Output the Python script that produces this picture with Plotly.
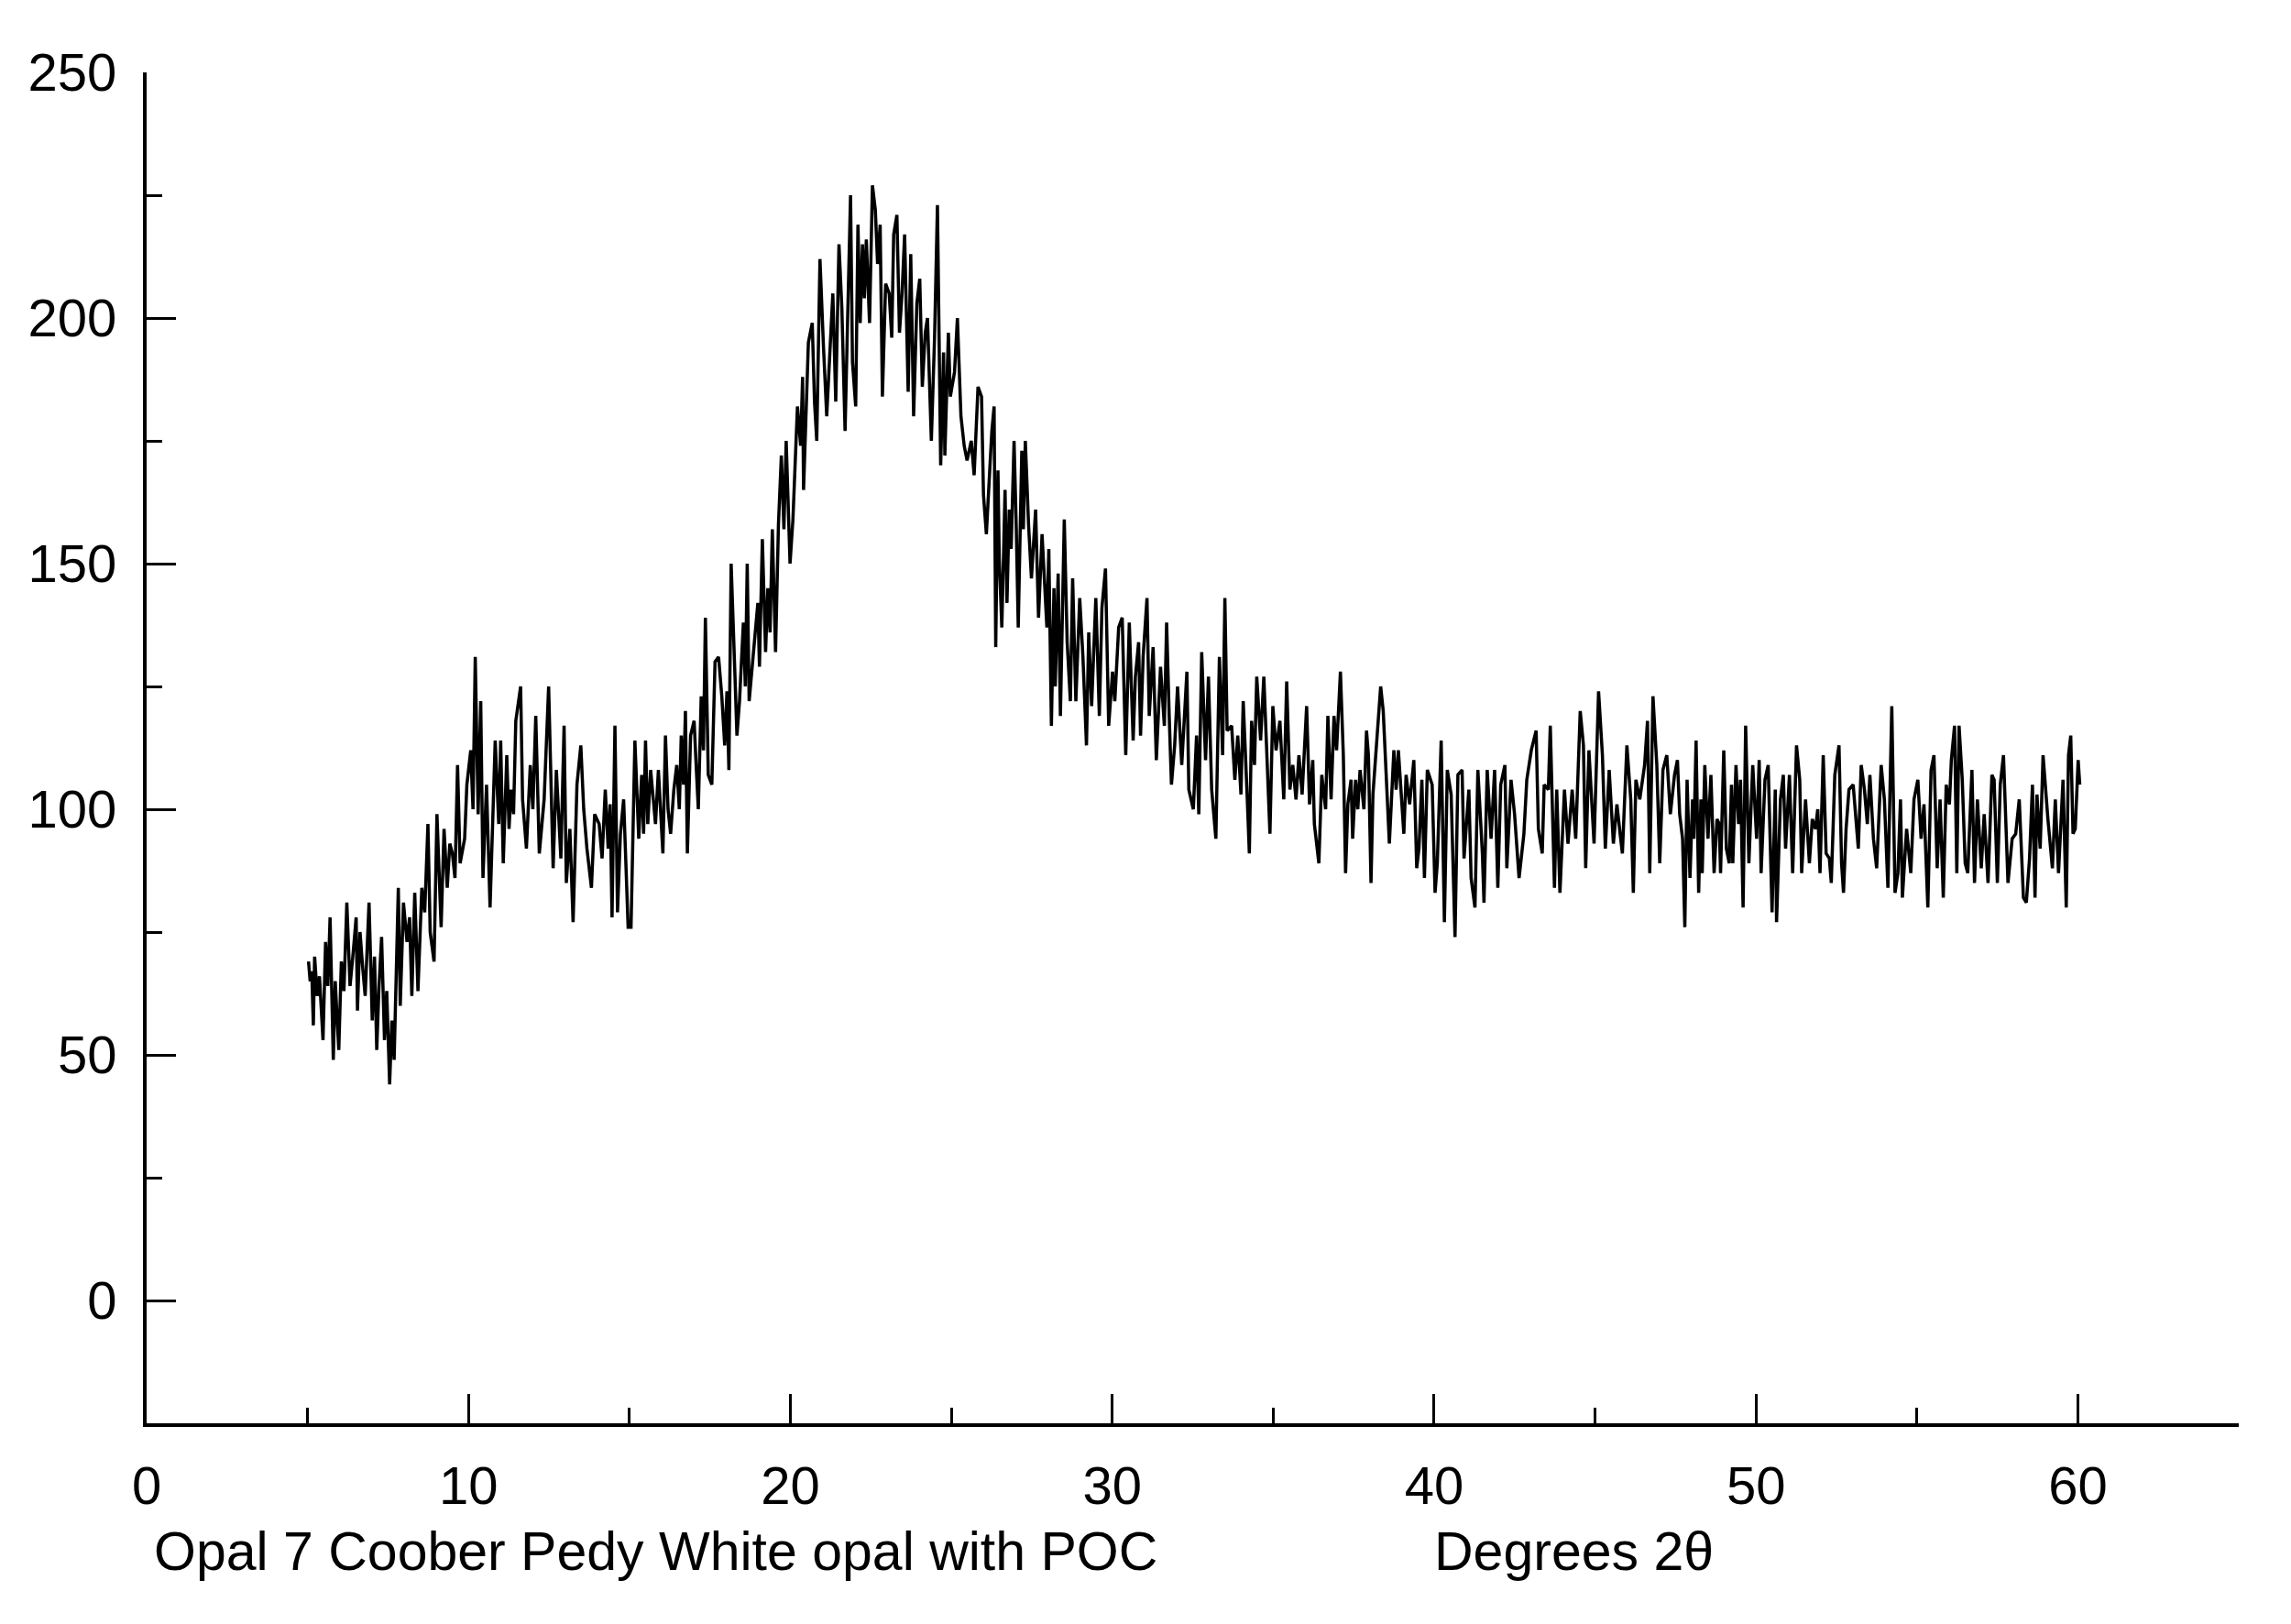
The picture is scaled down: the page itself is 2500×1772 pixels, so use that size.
import plotly.graph_objects as go

# Degrees 2-theta
two_theta = [
5.03,5.08,5.13,5.18,5.22,5.30,5.37,5.43,5.48,5.56,5.63,5.70,5.80,5.86,5.97,
6.05,6.13,6.22,6.32,6.42,6.51,6.55,6.63,6.71,6.79,6.91,
7.01,7.08,7.15,7.22,7.30,7.39,7.46,7.55,7.62,7.69,7.76,7.82,7.88,7.98,
8.09,8.17,8.24,8.33,8.43,8.55,8.64,8.74,8.81,8.93,
9.02,9.15,9.24,9.34,9.42,9.50,9.58,9.66,9.74,9.88,9.95,
10.07,10.14,10.21,10.30,10.38,10.45,10.56,10.67,10.76,10.83,10.94,
11.00,11.08,11.19,11.26,11.32,11.40,11.47,11.62,11.68,11.80,11.92,
12.00,12.09,12.20,12.28,12.35,12.49,12.63,12.73,12.87,12.97,
13.04,13.15,13.25,13.37,13.49,13.58,13.68,13.82,13.92,
14.06,14.15,14.25,14.34,14.40,14.46,14.55,14.63,14.72,14.82,14.96,
15.05,15.17,15.29,15.38,15.44,15.50,15.57,15.66,15.81,15.90,
16.04,16.12,16.20,16.28,16.38,16.47,16.55,16.61,16.68,16.74,16.80,16.90,
17.01,17.08,17.14,17.23,17.30,17.36,17.45,17.56,17.66,17.77,17.87,17.96,
18.03,18.09,18.16,18.28,18.34,18.42,18.54,18.60,18.66,18.72,18.85,18.99,
19.04,19.13,19.23,19.30,19.37,19.44,19.54,19.63,19.72,19.80,19.87,19.99,
20.08,20.15,20.22,20.32,20.38,20.41,20.48,20.56,20.68,20.75,20.82,20.92,
21.03,21.13,21.22,21.32,21.41,21.51,21.60,21.70,21.78,21.87,21.93,
22.03,22.10,22.17,22.24,22.30,22.36,22.46,22.55,22.64,22.71,22.79,22.86,22.96,
23.07,23.15,23.21,23.31,23.39,23.47,23.55,23.66,23.74,23.83,23.93,
24.02,24.10,24.19,24.26,24.38,24.48,24.57,24.67,24.76,24.80,24.91,24.97,
25.10,25.19,25.30,25.40,25.49,25.62,25.71,25.83,25.94,
26.00,26.09,26.21,26.26,26.33,26.38,26.45,26.49,26.57,26.67,26.73,26.80,26.86,26.95,
27.02,27.08,27.19,27.24,27.30,27.40,27.49,27.62,27.71,27.82,27.97,
28.03,28.11,28.19,28.23,28.32,28.39,28.51,28.60,28.70,28.77,28.87,28.99,
29.09,29.20,29.27,29.36,29.49,29.60,29.68,29.79,29.89,
30.01,30.08,30.20,30.31,30.42,30.53,30.65,30.72,30.82,30.88,30.96,
31.08,31.15,31.27,31.37,31.50,31.62,31.69,31.77,31.84,31.94,
32.03,32.16,32.32,32.38,32.52,32.62,32.69,32.78,32.90,32.99,
33.09,33.22,33.33,33.43,33.50,33.57,33.71,33.81,33.90,
34.00,34.07,34.19,34.26,34.33,34.42,34.49,34.61,34.71,34.80,34.90,34.99,
35.09,35.21,35.33,35.42,35.52,35.61,35.71,35.80,35.90,
36.04,36.13,36.23,36.28,36.42,36.51,36.63,36.70,36.80,36.89,36.97,
37.09,37.18,37.25,37.32,37.42,37.47,37.56,37.63,37.70,37.82,37.90,37.96,
38.04,38.10,38.23,38.34,38.42,38.51,38.61,38.75,38.82,38.89,38.99,
39.06,39.13,39.24,39.37,39.46,39.53,39.62,39.70,39.79,39.94,
40.03,40.10,40.22,40.32,40.41,40.53,40.65,40.74,40.87,40.93,
41.08,41.15,41.27,41.36,41.50,41.55,41.65,41.77,41.88,41.98,
42.07,42.20,42.26,42.39,42.50,42.64,42.79,42.88,
43.02,43.17,43.24,43.36,43.42,43.55,43.61,43.74,43.81,43.91,
44.05,44.16,44.29,44.40,44.54,44.64,44.71,44.81,44.97,
45.11,45.23,45.32,45.44,45.57,45.68,45.78,45.85,45.99,
46.11,46.19,46.27,46.39,46.54,46.63,46.70,46.80,46.92,
47.01,47.11,47.23,47.34,47.47,47.56,47.63,47.72,47.79,47.86,47.95,
48.03,48.07,48.14,48.22,48.29,48.33,48.41,48.51,48.60,48.70,48.79,48.86,48.90,
49.00,49.08,49.17,49.24,49.28,49.38,49.46,49.52,49.60,49.68,49.78,49.90,
50.02,50.10,50.16,50.28,50.38,50.50,50.60,50.64,50.76,50.85,50.92,
51.04,51.14,51.26,51.36,51.42,51.54,51.66,51.75,51.85,51.92,51.99,
52.09,52.18,52.28,52.34,52.45,52.58,52.66,52.72,52.80,52.89,
53.02,53.08,53.18,53.27,53.37,53.46,53.54,53.65,53.75,53.89,53.99,
54.10,54.22,54.32,54.41,54.49,54.55,54.68,54.81,54.91,
55.03,55.13,55.22,55.34,55.44,55.53,55.63,55.72,55.82,55.91,
56.01,56.07,56.17,56.24,56.31,56.41,56.50,56.58,56.71,56.79,56.88,
57.00,57.09,57.21,57.33,57.40,57.50,57.59,57.69,57.83,57.96,
58.07,58.18,58.31,58.40,58.50,58.59,58.67,58.73,58.83,58.92,
59.07,59.21,59.30,59.40,59.54,59.64,59.71,59.78,59.85,59.92,
60.01,60.06,
]

# Intensity (counts)
intensity = [
69,65,67,56,70,62,66,58,53,73,64,78,49,65,51,
69,63,81,64,71,78,59,75,68,62,81,
57,70,51,64,74,53,63,44,57,49,66,84,60,81,
73,78,62,83,63,84,79,97,75,69,
99,76,96,84,93,91,86,109,89,94,105,
112,100,131,99,122,86,105,80,98,114,97,
114,89,111,96,104,99,118,125,102,92,109,
100,119,91,97,102,125,88,108,90,117,
85,96,77,105,113,100,92,84,99,
97,90,104,92,101,78,117,79,95,102,76,
76,114,94,107,95,114,97,108,97,108,
91,115,100,95,104,109,100,115,105,120,91,115,
118,108,100,123,112,139,107,105,130,131,123,113,
124,108,150,127,115,122,138,125,150,122,131,142,
129,155,132,145,136,157,132,158,172,157,175,150,
159,170,182,174,188,165,180,195,199,183,175,212,
194,180,192,205,183,215,202,177,200,225,191,
182,219,199,215,204,216,199,227,222,211,219,184,207,
205,196,217,221,197,205,217,185,213,180,203,
208,186,197,200,175,196,223,170,193,172,197,184,
189,200,180,174,171,175,168,186,184,
164,156,171,177,182,133,169,151,137,165,142,161,153,175,
157,137,173,157,175,158,147,161,139,156,137,
153,117,145,125,148,119,159,134,122,147,122,143,
131,113,136,121,143,119,141,149,117,
128,122,137,139,111,138,114,127,134,115,131,
143,119,133,110,129,117,138,119,105,113,
125,109,128,104,100,115,99,132,110,127,
104,94,131,111,143,116,117,106,115,
103,122,103,91,118,109,127,114,127,110,95,121,
112,118,102,126,104,109,102,111,103,
121,101,110,97,89,107,100,119,102,119,112,
128,111,87,101,106,94,106,100,108,100,116,111,
85,103,116,125,120,106,93,112,104,112,102,
95,107,101,110,88,92,106,86,108,105,
83,89,114,77,108,103,74,107,108,90,
104,86,80,108,91,81,108,94,108,84,
105,109,88,106,99,86,95,106,
112,116,96,91,105,104,117,84,104,83,
104,93,104,94,120,113,88,112,93,
124,111,92,108,93,101,95,91,113,
102,83,106,102,109,118,87,123,109,
89,108,111,99,107,110,99,94,76,106,86,
102,94,114,83,102,87,109,94,107,87,98,97,87,
112,92,89,105,89,109,97,106,80,117,89,109,
94,110,87,106,109,79,104,77,102,107,92,
107,87,113,106,87,102,89,98,96,100,87,
111,91,90,85,107,113,89,83,96,104,
105,100,92,109,104,97,107,94,88,109,102,
84,121,83,87,102,82,96,87,102,
106,94,101,80,108,111,88,102,82,105,
101,110,117,87,117,106,89,87,108,85,102,
88,99,85,107,106,85,105,111,85,94,
95,102,82,81,90,105,82,103,92,111,
98,88,102,87,106,80,111,115,95,96,
110,105,
]

x_tick_values = [0, 10, 20, 30, 40, 50, 60]
y_tick_values = [0, 50, 100, 150, 200, 250]
sample_label = "Opal 7 Coober Pedy White opal with POC"
axis_label = "Degrees 2θ"

FONT = "Liberation Sans, Arial, Helvetica, sans-serif"

fig = go.Figure()
fig.add_trace(go.Scatter(
    x=two_theta, y=intensity, mode="lines",
    line=dict(color="black", width=3.5),
    showlegend=False, hoverinfo="skip",
))

axis_common = dict(
    showgrid=False, zeroline=False, showline=True, linecolor="black", linewidth=4,
    ticks="inside", ticklen=32, tickwidth=3, tickcolor="black",
    tickfont=dict(family=FONT, size=58, color="black"),
)

fig.update_layout(
    width=2500, height=1772,
    margin=dict(l=160, r=57, t=79, b=219),
    paper_bgcolor="white", plot_bgcolor="white",
    xaxis=dict(
        range=[0, 65], tickmode="array", tickvals=x_tick_values,
        ticktext=[str(v) for v in x_tick_values],
        minor=dict(dtick=5, tick0=0, ticks="inside", ticklen=17, tickwidth=3, tickcolor="black"),
        ticklabelstandoff=14,
        **axis_common,
    ),
    yaxis=dict(
        range=[-25, 250], tickmode="array", tickvals=y_tick_values,
        ticktext=[str(v) for v in y_tick_values],
        minor=dict(dtick=25, tick0=0, ticks="inside", ticklen=17, tickwidth=3, tickcolor="black"),
        ticklabelstandoff=17,
        **axis_common,
    ),
    annotations=[
        dict(text=sample_label, x=0.17, xref="x", xanchor="left",
             y=-0.095, yref="paper", yanchor="middle", showarrow=False,
             font=dict(family=FONT, size=59, color="black")),
        dict(text=axis_label, x=39.94, xref="x", xanchor="left",
             y=-0.095, yref="paper", yanchor="middle", showarrow=False,
             font=dict(family=FONT, size=59, color="black")),
    ],
)

fig.write_html("out.html")
